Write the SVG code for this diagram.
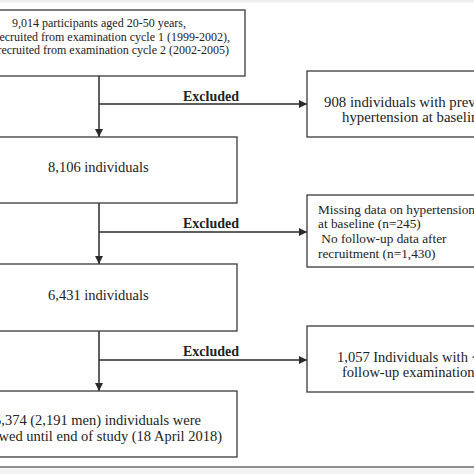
<svg xmlns="http://www.w3.org/2000/svg" width="474" height="474" viewBox="0 0 474 474">
<defs>
<style>
.box{fill:#fff;stroke:#3a3a3a;stroke-width:1.3}
.t{font-family:"Liberation Serif","Times New Roman",serif;font-size:14.5px;fill:#222}
.s{font-size:12px}
.m{font-size:13.3px}
.ex{font-family:"Liberation Serif","Times New Roman",serif;font-size:14px;font-weight:bold;fill:#222;text-anchor:middle}
.c{fill:none;stroke:#2a2a2a;stroke-width:1.5}
</style>
<marker id="ah" viewBox="0 0 10 10" refX="10" refY="5" markerWidth="8" markerHeight="8" markerUnits="userSpaceOnUse" orient="auto">
<path d="M0,0 L10,5 L0,10 z" fill="#2a2a2a"/>
</marker>
</defs>
<rect x="0" y="0" width="474" height="474" fill="#fff"/>
<rect x="0" y="0" width="474" height="2.5" fill="#eeeeee"/>
<rect x="0" y="468" width="474" height="6" fill="#f3f3f3"/>
<line x1="0" y1="467" x2="474" y2="467" stroke="#6a6a6a" stroke-width="1.5"/>

<g id="connectors">
<line class="c" x1="99" y1="76" x2="99" y2="137" marker-end="url(#ah)"/>
<line class="c" x1="99" y1="104" x2="307" y2="104" marker-end="url(#ah)"/>
<line class="c" x1="99" y1="203" x2="99" y2="264" marker-end="url(#ah)"/>
<line class="c" x1="99" y1="232" x2="307" y2="232" marker-end="url(#ah)"/>
<line class="c" x1="99" y1="331" x2="99" y2="391" marker-end="url(#ah)"/>
<line class="c" x1="99" y1="360" x2="307" y2="360" marker-end="url(#ah)"/>
<text class="ex" x="211" y="100.5">Excluded</text>
<text class="ex" x="211" y="227.5">Excluded</text>
<text class="ex" x="211" y="355.5">Excluded</text>
</g>

<g id="n1">
<rect class="box" x="-5" y="10" width="250" height="66"/>
<text class="t s" x="99" y="27" text-anchor="middle">9,014 participants aged 20-50 years,</text>
<text class="t s" x="230" y="40.5" text-anchor="end">recruited from examination cycle 1 (1999-2002),</text>
<text class="t s" x="229" y="54" text-anchor="end">recruited from examination cycle 2 (2002-2005)</text>
</g>

<g id="n2">
<rect class="box" x="-5" y="137" width="242" height="66"/>
<text class="t" x="48" y="172">8,106 individuals</text>
</g>

<g id="n3">
<rect class="box" x="-5" y="264" width="242" height="67"/>
<text class="t" x="48" y="300">6,431 individuals</text>
</g>

<g id="n4">
<rect class="box" x="-5" y="391" width="242" height="66"/>
<text class="t" x="201" y="424.5" text-anchor="end">5,374 (2,191 men) individuals were</text>
<text class="t" x="222" y="441" text-anchor="end">followed until end of study (18 April 2018)</text>
</g>

<g id="e1">
<rect class="box" x="307" y="71" width="180" height="66"/>
<text class="t" x="324" y="106.5" style="font-size:14.8px">908 individuals with previous</text>
<text class="t" x="342" y="121.5" style="font-size:14.8px">hypertension at baseline</text>
</g>

<g id="e2">
<rect class="box" x="307" y="195" width="180" height="72"/>
<text class="t m" x="318" y="213.5">Missing data on hypertension</text>
<text class="t m" x="318" y="228">at baseline (n=245)</text>
<text class="t m" x="318" y="243" xml:space="preserve"> No follow-up data after</text>
<text class="t m" x="318" y="257.5">recruitment (n=1,430)</text>
</g>

<g id="e3">
<rect class="box" x="307" y="326" width="180" height="66"/>
<text class="t" x="337" y="361.5">1,057 Individuals with &lt;</text>
<text class="t" x="342" y="376.5">follow-up examinations</text>
</g>
</svg>
